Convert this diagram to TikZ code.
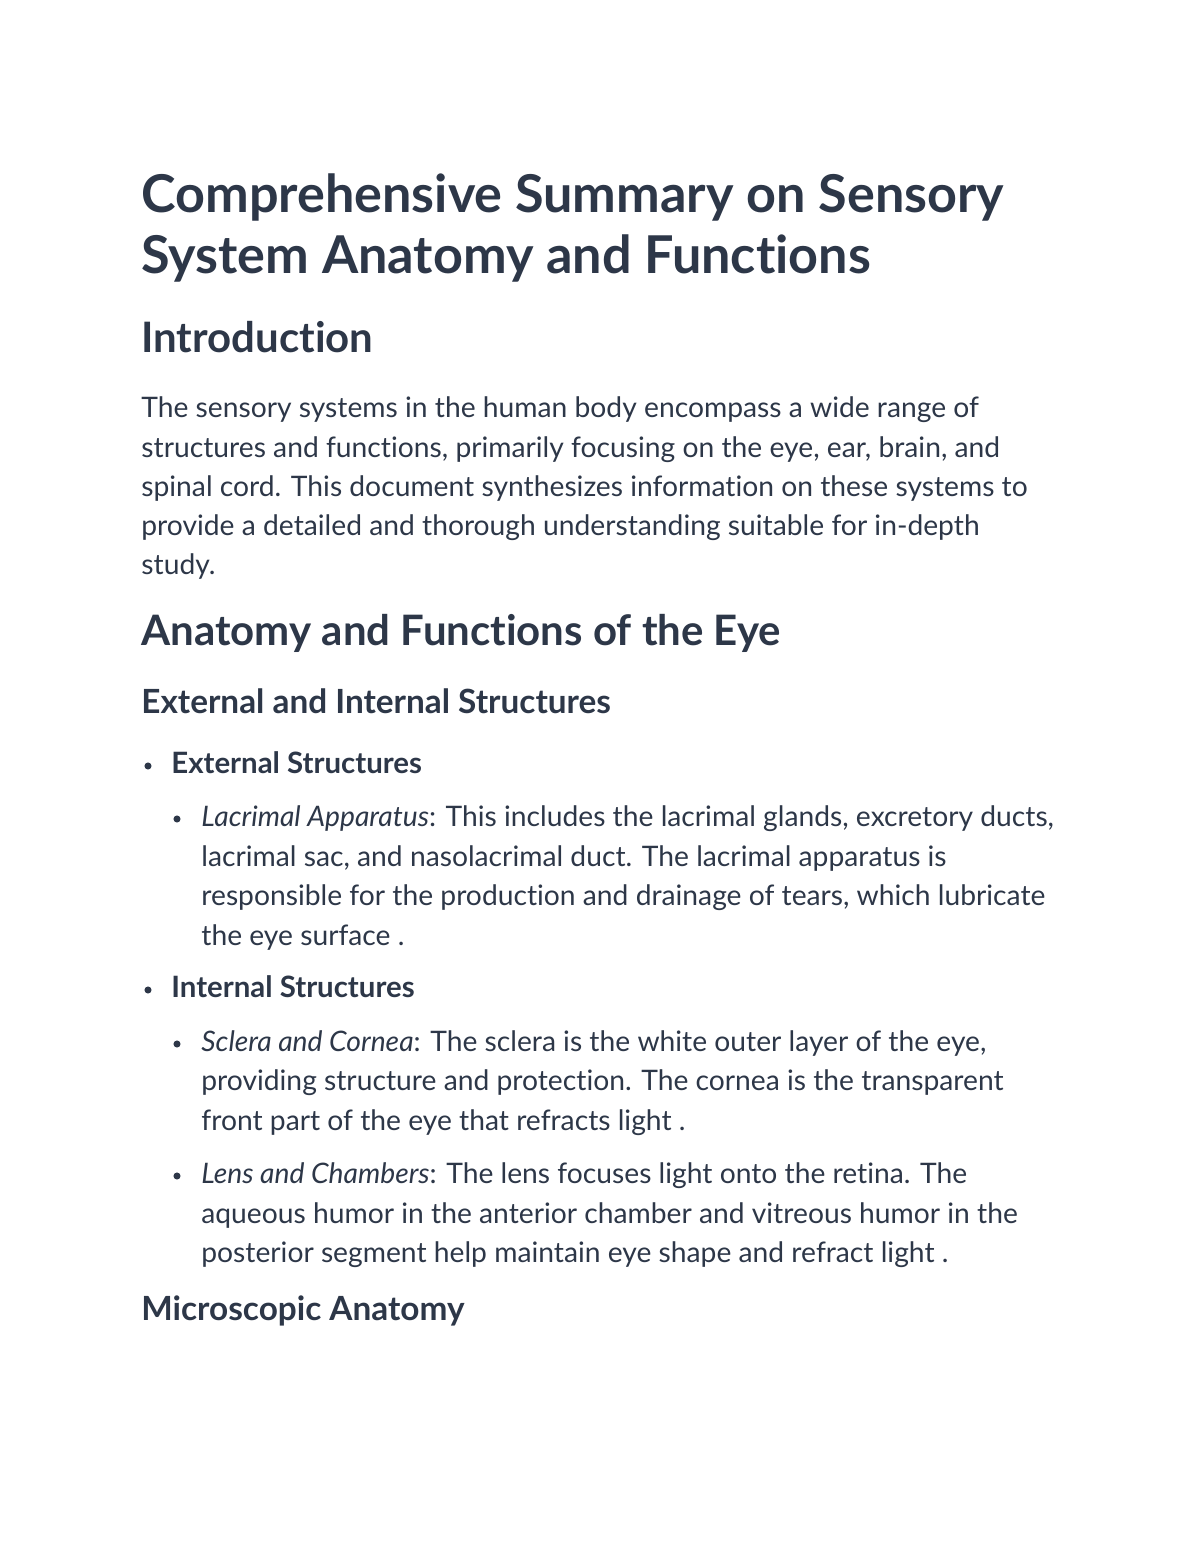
\documentclass[tikz,border=0pt]{standalone}
\usepackage{fontspec}
\setmainfont[Ligatures=NoCommon]{Lato}
\definecolor{ink}{HTML}{2D3748}
\begin{document}
\begin{tikzpicture}[x=0.51pt,y=-0.51pt,
  t/.style={anchor=base west,inner sep=0pt,text=ink},
  h1/.style={t,font=\bfseries\fontsize{26.6}{30}\selectfont},
  h2/.style={t,font=\bfseries\fontsize{21.4}{24}\selectfont},
  h3/.style={t,font=\bfseries\fontsize{17}{20}\selectfont},
  b/.style={t,font=\fontsize{14.4}{17}\selectfont},
  bb/.style={t,font=\bfseries\fontsize{15}{17}\selectfont},
  dot/.style={circle,fill=ink,inner sep=0pt,minimum size=3.6pt}]
\useasboundingbox[fill=white] (0,0) rectangle (1200,1553);
\node[h1] (t1) at (141,213) {Comprehensive Summary on Sensory};
\node[h1] (t2) at (141,273) {System Anatomy and Functions};
\node[h2] (intro) at (141,352) {Introduction};
\node[b] (p1) at (141,417) {The sensory systems in the human body encompass a wide range of};
\node[b] (p2) at (141,457) {structures and functions, primarily focusing on the eye, ear, brain, and};
\node[b] (p3) at (141,496) {spinal cord. This document synthesizes information on these systems to};
\node[b] (p4) at (141,535) {provide a detailed and thorough understanding suitable for in-depth};
\node[b] (p5) at (141,574) {study.};
\node[h2] (eye) at (141,645) {Anatomy and Functions of the Eye};
\node[h3] (ext) at (141,713) {External and Internal Structures};
\node[dot] (d1) at (148,766) {};
\node[bb] (es) at (171,773) {External Structures};
\node[dot] (d2) at (177,819) {};
\node[b] (l1) at (201,826) {\textit{Lacrimal Apparatus}: This includes the lacrimal glands, excretory ducts,};
\node[b] (l2) at (201,866) {lacrimal sac, and nasolacrimal duct. The lacrimal apparatus is};
\node[b] (l3) at (201,905) {responsible for the production and drainage of tears, which lubricate};
\node[b] (l4) at (201,945) {the eye surface .};
\node[dot] (d3) at (148,990) {};
\node[bb] (is) at (171,997) {Internal Structures};
\node[dot] (d4) at (177,1044) {};
\node[b] (s1) at (201,1051) {\textit{Sclera and Cornea}: The sclera is the white outer layer of the eye,};
\node[b] (s2) at (201,1090) {providing structure and protection. The cornea is the transparent};
\node[b] (s3) at (201,1130) {front part of the eye that refracts light .};
\node[dot] (d5) at (177,1176) {};
\node[b] (c1) at (201,1183) {\textit{Lens and Chambers}: The lens focuses light onto the retina. The};
\node[b] (c2) at (201,1223) {aqueous humor in the anterior chamber and vitreous humor in the};
\node[b] (c3) at (201,1262) {posterior segment help maintain eye shape and refract light .};
\node[h3] (micro) at (141,1320) {Microscopic Anatomy};
\end{tikzpicture}
\end{document}
